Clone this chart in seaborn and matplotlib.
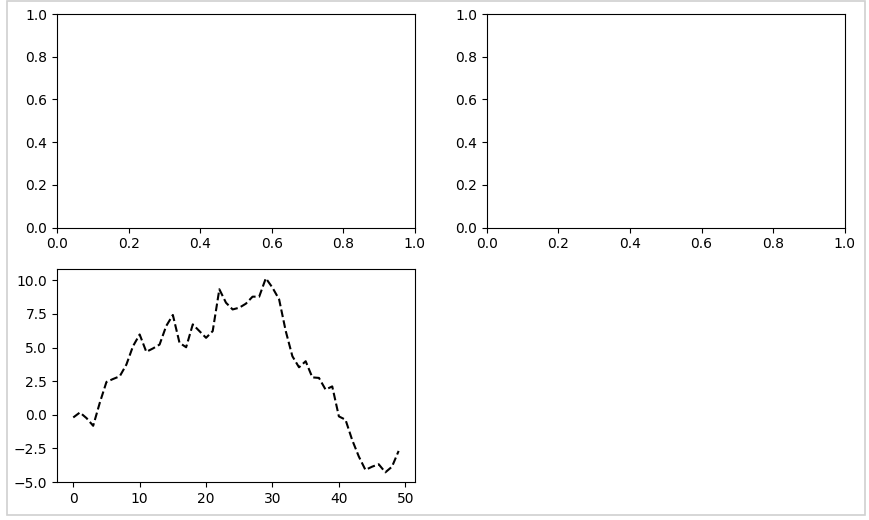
import numpy as np
import pandas as pd
import seaborn as sns
import matplotlib.pyplot as plt
from matplotlib.patches import Rectangle

# random walk values
steps = list(range(50))
walk = [-0.2, 0.17, -0.25, -0.82, 0.9, 2.44, 2.66, 2.86, 3.73, 5.1,
        5.97, 4.68, 4.93, 5.22, 6.6, 7.42, 5.35, 5.02, 6.72, 6.22,
        5.72, 6.22, 9.33, 8.33, 7.83, 7.96, 8.26, 8.78, 8.78, 10.15,
        9.45, 8.58, 6.22, 4.35, 3.53, 3.98, 2.78, 2.74, 1.87, 2.11,
        -0.12, -0.37, -1.87, -3.1, -4.1, -3.86, -3.68, -4.28, -3.86, -2.69]

df = pd.DataFrame({'step': steps, 'value': walk})

fig = plt.figure(figsize=(8.7, 5.2), dpi=100)
ax1 = fig.add_subplot(2, 2, 1)
ax2 = fig.add_subplot(2, 2, 2)
ax3 = fig.add_subplot(2, 2, 3)

sns.lineplot(x='step', y='value', data=df, ax=ax3, color='black',
             linestyle='--', linewidth=1.5)
ax3.set(xlabel='', ylabel='')

fig.subplots_adjust(left=0.0655, right=0.971, top=0.973, bottom=0.073,
                    wspace=0.201, hspace=0.192)

# light frame around the whole picture
fig.patches.append(Rectangle((0.008, 0.01), 0.986, 0.988, transform=fig.transFigure,
                             fill=False, edgecolor='#d0d0d0', linewidth=1.2))

fig.savefig('out.png', dpi=100)
